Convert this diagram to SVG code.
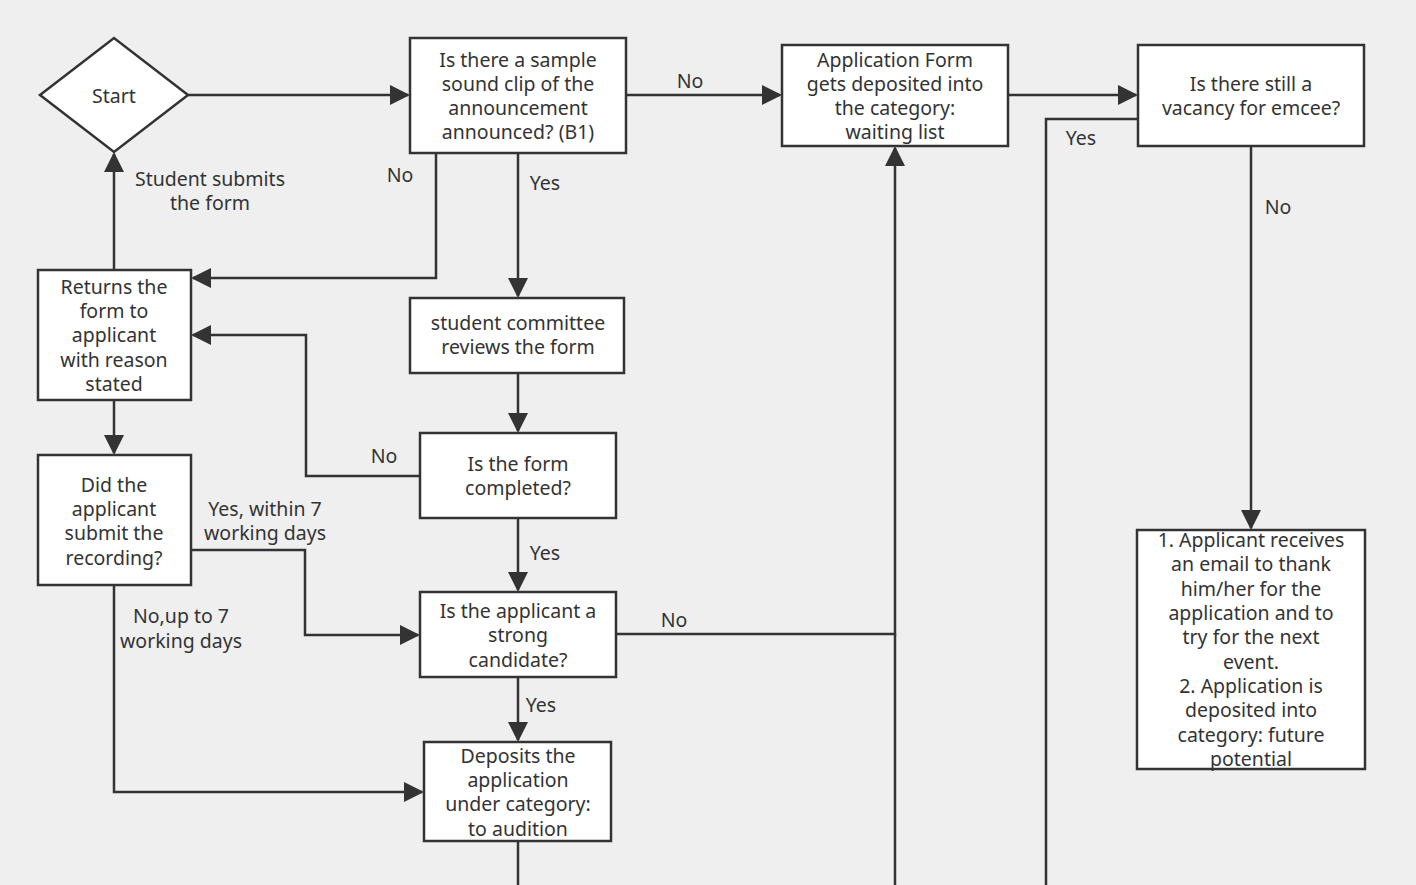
<svg xmlns="http://www.w3.org/2000/svg" width="1416" height="885" viewBox="0 0 1416 885">
<defs>
<style>
.n{fill:#fff;stroke:#333;stroke-width:2.5}
.t{font-family:"Noto Sans","Open Sans",sans-serif;font-size:19.5px;fill:#333;text-anchor:middle;dominant-baseline:middle;transform:translate(0px,2px)}
.c{fill:none;stroke:#333;stroke-width:2.5}
</style>
<marker id="b" viewBox="0 0 10 10" refX="9" refY="5" markerWidth="8" markerHeight="8" orient="auto"><path d="M0,0L10,5L0,10z" fill="#333"/></marker>
</defs>
<rect width="1416" height="885" fill="#efefef"/>
<g id="connectors">
<path class="c" d="M188,95H408" marker-end="url(#b)"/>
<path class="c" d="M626,95H780" marker-end="url(#b)"/>
<path class="c" d="M1008,95H1136" marker-end="url(#b)"/>
<path class="c" d="M1138,119H1046V885"/>
<path class="c" d="M1251,146V528" marker-end="url(#b)"/>
<path class="c" d="M436,153V278H193" marker-end="url(#b)"/>
<path class="c" d="M518,153V296" marker-end="url(#b)"/>
<path class="c" d="M518,373V431" marker-end="url(#b)"/>
<path class="c" d="M420,476H306V335H193" marker-end="url(#b)"/>
<path class="c" d="M518,518V590" marker-end="url(#b)"/>
<path class="c" d="M114,270V154" marker-end="url(#b)"/>
<path class="c" d="M114,400V453" marker-end="url(#b)"/>
<path class="c" d="M191,550H305V635H418" marker-end="url(#b)"/>
<path class="c" d="M114,585V792H422" marker-end="url(#b)"/>
<path class="c" d="M616,634H895V148" marker-end="url(#b)"/>
<path class="c" d="M895,634V885"/>
<path class="c" d="M518,677V740" marker-end="url(#b)"/>
<path class="c" d="M518,841V885"/>
<text class="t" x="690" y="81">No</text>
<text class="t" x="1081" y="138">Yes</text>
<text class="t" x="1278" y="207">No</text>
<text class="t" x="400" y="175">No</text>
<text class="t" x="545" y="183">Yes</text>
<text class="t" x="384" y="456">No</text>
<text class="t" x="545" y="553">Yes</text>
<text class="t" x="210" y="179">Student submits</text>
<text class="t" x="210" y="203">the form</text>
<text class="t" x="265" y="509">Yes, within 7</text>
<text class="t" x="265" y="533">working days</text>
<text class="t" x="181" y="616">No,up to 7</text>
<text class="t" x="181" y="641">working days</text>
<text class="t" x="674" y="620">No</text>
<text class="t" x="541" y="705">Yes</text>
</g>
<g id="start"><path class="n" d="M40,95L114,38L188,95L114,152Z"/><text class="t" x="114" y="96">Start</text></g>
<g id="b1"><rect class="n" x="410" y="38" width="216" height="115"/>
<text class="t" x="518" y="60">Is there a sample</text><text class="t" x="518" y="84">sound clip of the</text><text class="t" x="518" y="108">announcement</text><text class="t" x="518" y="132">announced? (B1)</text></g>
<g id="waiting"><rect class="n" x="782" y="45" width="226" height="101"/>
<text class="t" x="895" y="60">Application Form</text><text class="t" x="895" y="84">gets deposited into</text><text class="t" x="895" y="108">the category:</text><text class="t" x="895" y="132">waiting list</text></g>
<g id="vacancy"><rect class="n" x="1138" y="45" width="226" height="101"/>
<text class="t" x="1251" y="84">Is there still a</text><text class="t" x="1251" y="108">vacancy for emcee?</text></g>
<g id="returns"><rect class="n" x="38" y="270" width="153" height="130"/>
<text class="t" x="114" y="287">Returns the</text><text class="t" x="114" y="311">form to</text><text class="t" x="114" y="335">applicant</text><text class="t" x="114" y="360">with reason</text><text class="t" x="114" y="384">stated</text></g>
<g id="committee"><rect class="n" x="410" y="298" width="214" height="75"/>
<text class="t" x="518" y="323">student committee</text><text class="t" x="518" y="347">reviews the form</text></g>
<g id="completed"><rect class="n" x="420" y="433" width="196" height="85"/>
<text class="t" x="518" y="464">Is the form</text><text class="t" x="518" y="488">completed?</text></g>
<g id="recording"><rect class="n" x="38" y="455" width="153" height="130"/>
<text class="t" x="114" y="485">Did the</text><text class="t" x="114" y="509">applicant</text><text class="t" x="114" y="533">submit the</text><text class="t" x="114" y="558">recording?</text></g>
<g id="strong"><rect class="n" x="420" y="592" width="196" height="85"/>
<text class="t" x="518" y="611">Is the applicant a</text><text class="t" x="518" y="635">strong</text><text class="t" x="518" y="660">candidate?</text></g>
<g id="audition"><rect class="n" x="424" y="742" width="187" height="99"/>
<text class="t" x="518" y="756">Deposits the</text><text class="t" x="518" y="780">application</text><text class="t" x="518" y="804">under category:</text><text class="t" x="518" y="829">to audition</text></g>
<g id="future"><rect class="n" x="1137" y="530" width="228" height="239"/>
<text class="t" x="1251" y="540">1. Applicant receives</text><text class="t" x="1251" y="564">an email to thank</text><text class="t" x="1251" y="589">him/her for the</text><text class="t" x="1251" y="613">application and to</text><text class="t" x="1251" y="637">try for the next</text><text class="t" x="1251" y="662">event.</text><text class="t" x="1251" y="686">2. Application is</text><text class="t" x="1251" y="710">deposited into</text><text class="t" x="1251" y="735">category: future</text><text class="t" x="1251" y="759">potential</text></g>
</svg>
